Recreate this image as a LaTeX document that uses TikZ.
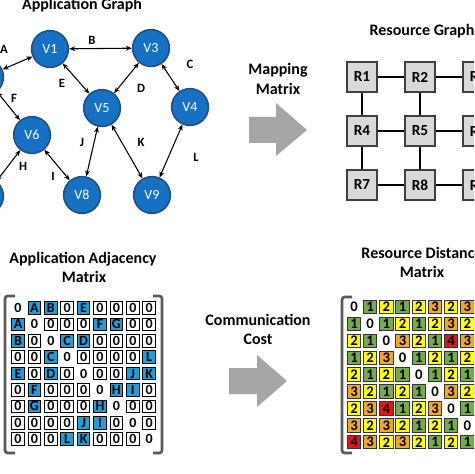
\documentclass[tikz,border=0pt]{standalone}
\usepackage{fontspec}
\setmainfont{Carlito}
\usetikzlibrary{arrows.meta,shadows}
\definecolor{vblue}{RGB}{22,112,196}
\definecolor{vborder}{RGB}{32,80,132}
\definecolor{cblue}{RGB}{30,158,218}
\definecolor{rgray}{RGB}{217,217,217}
\definecolor{agray}{RGB}{166,166,166}
\definecolor{dgreen}{RGB}{118,170,78}
\definecolor{dyellow}{RGB}{255,255,0}
\definecolor{dorange}{RGB}{240,168,40}
\definecolor{dred}{RGB}{222,24,24}
\definecolor{brk}{RGB}{90,90,90}
\begin{document}
\begin{tikzpicture}[x=0.75pt,y=-0.75pt,
  vnode/.style={circle,fill=vblue,draw=vborder,line width=1.2pt,minimum size=27.5pt,inner sep=0pt,text=white,font=\fontsize{10.5}{12}\selectfont,drop shadow={opacity=0.2,shadow xshift=0.8pt,shadow yshift=-0.8pt}},
  elabel/.style={font=\bfseries\fontsize{9.5}{11}\selectfont,inner sep=0pt},
  edge/.style={{Stealth[length=4.5pt,width=3.6pt]}-{Stealth[length=4.5pt,width=3.6pt]},line width=0.8pt},
  rnode/.style={draw=black!75,fill=rgray,line width=0.8pt,minimum size=22.5pt,inner sep=0pt,font=\bfseries\fontsize{11.5}{13}\selectfont},
  rlink/.style={line width=1.2pt},
  title/.style={font=\bfseries\fontsize{12}{15}\selectfont,inner sep=0pt},
  zcell/.style={draw=black,line width=0.7pt,fill=white,minimum size=9.5pt,inner sep=0pt,font=\bfseries\fontsize{10.5}{10}\selectfont},
  bcell/.style={zcell,fill=cblue},
  pcell/.style={minimum size=9.5pt,inner sep=0pt,font=\bfseries\fontsize{10.5}{10}\selectfont},
  dcell/.style={draw=black!80,line width=0.7pt,minimum size=10pt,inner sep=0pt,font=\bfseries\fontsize{11}{10}\selectfont},
  bracket/.style={draw=brk,line width=2pt,rounded corners=2pt},
  bigarrow/.style={fill=agray}
]
\useasboundingbox (0,0) rectangle (474,474);
\fill[white] (0,0) rectangle (474,474);
\clip (0,0) rectangle (474,474);

% ---------- Application graph ----------
\node[title,anchor=base] (tAG) at (82,10) {Application Graph};
\node[vnode] (V1) at (50,49) {V1};
\node[vnode] (V2) at (-15,77) {};
\node[vnode] (V3) at (151,48) {V3};
\node[vnode] (V4) at (190,107) {V4};
\node[vnode] (V5) at (102,108) {V5};
\node[vnode] (V6) at (32,135) {V6};
\node[vnode] (V7) at (-15,196) {};
\node[vnode] (V8) at (82,195) {V8};
\node[vnode] (V9) at (152,195) {V9};
\draw[edge] (V2) -- (V1);
\draw[edge] (V1) -- (V3);
\draw[edge] (V3) -- (V4);
\draw[edge] (V3) -- (V5);
\draw[edge] (V1) -- (V5);
\draw[edge] (V2) -- (V6);
\draw[edge] (V7) -- (V6);
\draw[edge] (V6) -- (V8);
\draw[edge] (V5) -- (V8);
\draw[edge] (V5) -- (V9);
\draw[edge] (V4) -- (V9);
\node[elabel] (lA) at (4,49) {A};
\node[elabel] (lB) at (92,40) {B};
\node[elabel] (lC) at (190,64) {C};
\node[elabel] (lD) at (141,88) {D};
\node[elabel] (lE) at (62,83) {E};
\node[elabel] (lF) at (14,98) {F};
\node[elabel] (lH) at (23,166) {H};
\node[elabel] (lI) at (53,176) {I};
\node[elabel] (lJ) at (82,142) {J};
\node[elabel] (lK) at (141,142) {K};
\node[elabel] (lL) at (196,157) {L};

% ---------- Mapping arrow ----------
\node[title,anchor=base] (tMap) at (278,75) {Mapping};
\node[title,anchor=base] (tMat) at (278,95) {Matrix};
\fill[bigarrow] (249,117) -- (276,117) -- (276,103) -- (307,130) -- (276,156) -- (276,143) -- (249,143) -- cycle;

% ---------- Resource graph ----------
\node[title,anchor=base] (tRG) at (422,36) {Resource Graph};
\foreach \r/\x/\y in {1/362/77,2/420/77,3/478/77,4/362/131,5/420/131,6/478/131,7/362/185,8/420/185,9/478/185}{
  \node[rnode] (R\r) at (\x,\y) {R\r};
}
\draw[rlink] (R1) -- (R2); \draw[rlink] (R2) -- (R3);
\draw[rlink] (R4) -- (R5); \draw[rlink] (R5) -- (R6);
\draw[rlink] (R7) -- (R8); \draw[rlink] (R8) -- (R9);
\draw[rlink] (R1) -- (R4); \draw[rlink] (R4) -- (R7);
\draw[rlink] (R2) -- (R5); \draw[rlink] (R5) -- (R8);
\draw[rlink] (R3) -- (R6); \draw[rlink] (R6) -- (R9);

% ---------- Application adjacency matrix ----------
\node[title,anchor=base] (tAA1) at (83,263) {Application Adjacency};
\node[title,anchor=base] (tAA2) at (84,282) {Matrix};
\draw[bracket] (15,296) -- (5,296) -- (5,453) -- (15,453);
\draw[bracket] (153,296) -- (162,296) -- (162,453) -- (153,453);
\def\tz{z}\def\tp{p}
\foreach \row [count=\i] in {{p,A,B,z,E,z,z,z,z},{A,p,z,z,z,F,G,z,z},{B,z,p,C,D,z,z,z,z},{z,z,C,p,z,z,z,z,L},{E,z,D,z,p,z,z,J,K},{z,F,z,z,z,p,H,I,z},{z,G,z,z,z,H,p,z,z},{z,z,z,z,J,I,z,p,z},{z,z,z,L,K,z,z,z,p}}{
  \foreach \c [count=\j] in \row {
    \ifx\c\tz
      \node[zcell] (a\i-\j) at ({18+16.4*(\j-1)},{308+16.4*(\i-1)}) {0};
    \else\ifx\c\tp
      \node[pcell] (a\i-\j) at ({18+16.4*(\j-1)},{308+16.4*(\i-1)}) {0};
    \else
      \node[bcell] (a\i-\j) at ({18+16.4*(\j-1)},{308+16.4*(\i-1)}) {\c};
    \fi\fi
  }
}

% ---------- Communication cost arrow ----------
\node[title,anchor=base] (tCC1) at (258,325) {Communication};
\node[title,anchor=base] (tCC2) at (258,344) {Cost};
\fill[bigarrow] (229,368) -- (257,368) -- (257,355) -- (287,381) -- (257,407) -- (257,394) -- (229,394) -- cycle;

% ---------- Resource distance matrix ----------
\node[title,anchor=base] (tRD1) at (422,258) {Resource Distance};
\node[title,anchor=base] (tRD2) at (422,277) {Matrix};
\draw[bracket] (352,297) -- (342,297) -- (342,453) -- (352,453);
\foreach \row [count=\i] in {{0,1,2,1,2,3,2,3,4},{1,0,1,2,1,2,3,2,3},{2,1,0,3,2,1,4,3,2},{1,2,3,0,1,2,1,2,3},{2,1,2,1,0,1,2,1,2},{3,2,1,2,1,0,3,2,1},{2,3,4,1,2,3,0,1,2},{3,2,3,2,1,2,1,0,1},{4,3,2,3,2,1,2,1,0}}{
  \foreach \v [count=\j] in \row {
    \ifnum\v=0
      \node[pcell,font=\bfseries\fontsize{11}{10}\selectfont] (d\i-\j) at ({354+16.2*(\j-1)},{307+16.9*(\i-1)}) {0};
    \else
      \ifcase\v\relax\or\def\dcol{dgreen}\or\def\dcol{dyellow}\or\def\dcol{dorange}\or\def\dcol{dred}\fi
      \node[dcell,fill=\dcol] (d\i-\j) at ({354+16.2*(\j-1)},{307+16.9*(\i-1)}) {\v};
    \fi
  }
}
\end{tikzpicture}
\end{document}
